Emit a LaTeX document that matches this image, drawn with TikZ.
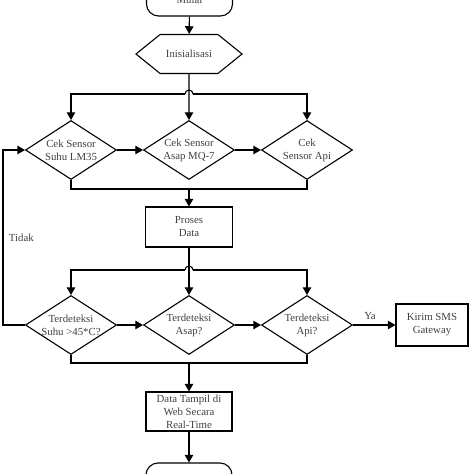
\documentclass[tikz,border=0pt]{standalone}
\usepackage{fontspec}
\setmainfont{Liberation Serif}
\usetikzlibrary{arrows,shapes}

\begin{document}
\begin{tikzpicture}[->,>=triangle 60,x=1pt,y=1pt,line width=1.1pt,
    every node/.style={font=\fontsize{10.8}{13}\selectfont,text=black!75,align=center},
    terminal/.style={draw=black,rounded corners=12pt,minimum width=86pt,minimum height=32pt},
    prep/.style={draw=black,shape=signal,signal to=west and east,signal pointer angle=78,minimum width=106pt,minimum height=39pt},
    decision/.style={draw=black,shape=diamond,aspect=1.55,inner sep=0pt,minimum width=91pt,minimum height=59pt},
    process/.style={draw=black,shape=rectangle,inner sep=1pt,minimum width=87pt,minimum height=40pt}]
            \useasboundingbox (0,0) rectangle (474,474);
            \node[terminal](Mulai)at(189.5, 474){Mulai};
            \node[prep](Init)at(189, 420){Inisialisasi};
            \node[decision](0)at(71, 324){Cek Sensor\\Suhu LM35};
            \node[decision](1)at(189, 324){Cek Sensor\\Asap MQ-7};
            \node[decision](2)at(307, 324){Cek\\Sensor Api};
            \node[process](Proses)at(189, 247){Proses\\Data};
            \node[decision](3)at(71, 149){Terdeteksi\\Suhu >45*C?};
            \node[decision](4)at(189, 149){Terdeteksi\\Asap?};
            \node[decision](5)at(307, 149){Terdeteksi\\Api?};
            \node[process,minimum width=72pt,minimum height=42pt](SMS)at(432, 149){Kirim SMS\\Gateway};
            \node[process,minimum width=86pt,minimum height=39pt,inner sep=0pt](Tampil)at(189, 62.5){Data Tampil di\\Web Secara\\Real-Time};
            \node[terminal](Selesai)at(189, -5){Selesai};
            \coordinate(J1)at(189, 380);
            \coordinate(B1)at(189, 285);
            \coordinate(J2)at(189, 204);
            \coordinate(B2)at(189, 111);
            \coordinate(L)at(3, 149);
            % main line
            \path[](Mulai) edge (Init)
            (Init) edge (1)
            (0) edge (1)
            (1) edge (2)
            (B1) edge (Proses)
            (Proses) edge (4)
            (3) edge (4)
            (4) edge (5)
            (5) edge node[above,pos=0.4,yshift=2pt]{Ya} (SMS)
            (B2) edge (Tampil)
            (Tampil) edge (Selesai);
            % branches with hops
            \draw (J1) ++(-4,0) -| (0);
            \draw (J1) ++(4,0) -| (2);
            \draw[-] (J1) ++(-4,0) arc (180:0:4);
            \draw (J2) ++(-4,0) -| (3);
            \draw (J2) ++(4,0) -| (5);
            \draw[-] (J2) ++(-4,0) arc (180:0:4);
            \draw[-] (0.south) |- (B1) -| (2.south);
            \draw[-] (3.south) |- (B2) -| (5.south);
            % loop back
            \draw (3.west) -- (L) |- node[pos=0.25,right,xshift=2pt]{Tidak} (0.west);
\end{tikzpicture}
\end{document}
